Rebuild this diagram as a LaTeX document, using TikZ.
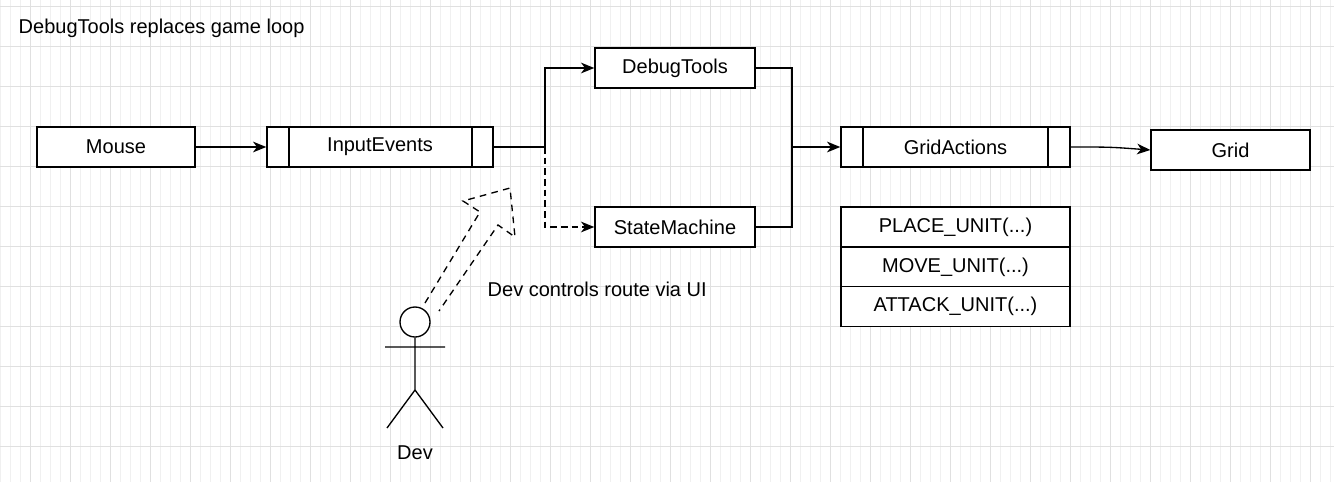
\documentclass[tikz,border=0pt]{standalone}
\usepackage{fontspec}
\setmainfont{Liberation Sans}
\usetikzlibrary{arrows.meta}
\begin{document}
\begin{tikzpicture}[x=0.75pt,y=-0.75pt,
 box/.style={draw,line width=1pt,fill=white,minimum height=30pt,inner sep=0pt,font=\fontsize{15}{18}\selectfont},
 lbl/.style={font=\fontsize{15}{18}\selectfont},
 arr/.style={line width=1pt,-{Stealth[length=10pt,width=8pt,inset=3pt]}},
 ln/.style={line width=1pt}]
\useasboundingbox (0,0) rectangle (1334,482);
\fill[white] (0,0) rectangle (1334,482);
\draw[black!6,line width=0.5pt] (0,-3.3) grid[step=10] (1334,482);
\foreach \x in {30,70,...,1334} \draw[black!12,line width=0.6pt] (\x,0)--(\x,482);
\foreach \y in {6.7,46.7,...,482} \draw[black!12,line width=0.6pt] (0,\y)--(1334,\y);
\node[lbl,anchor=west] (title) at (14,28) {DebugTools replaces game loop};
\node[box,minimum width=118.5pt] (mouse) at (116,147) {Mouse};
\node[box,minimum width=169.5pt] (ie) at (380,147) {InputEvents};
\draw[ln] (289,127)--(289,167) (472,127)--(472,167);
\node[box,minimum width=120pt] (dt) at (675,68) {DebugTools};
\node[box,minimum width=120pt] (sm) at (675,227) {StateMachine};
\node[box,minimum width=171.75pt] (ga) at (955.5,147) {GridActions};
\draw[ln] (863,127)--(863,167) (1048,127)--(1048,167);
\node[box,minimum width=119.25pt] (grid) at (1230.5,150) {Grid};
\node[box,minimum width=171.75pt] (l1) at (955.5,227) {PLACE\_UNIT(...)};
\node[box,minimum width=171.75pt] (l2) at (955.5,267) {MOVE\_UNIT(...)};
\node[box,minimum width=171.75pt] (l3) at (955.5,306.5) {ATTACK\_UNIT(...)};
\coordinate (sp) at (545,147);
\coordinate (jn) at (792,147);
\draw[arr] (mouse) -- (ie);
\draw[ln] (ie.east) -- (sp);
\draw[arr] (sp) |- (dt.west);
\draw[arr,dashed,dash pattern=on 5pt off 3pt] (sp) |- (sm.west);
\draw[ln] (dt.east) -| (jn);
\draw[ln] (sm.east) -| (jn);
\draw[arr] (jn) -- (ga.west);
\draw[arr] (ga.east) .. controls (1110,147) .. (grid.west);
% block arrow
\draw[line width=1pt,dashed,dash pattern=on 5pt off 4pt] (425,303)--(480,212)--(463,201)--(510,188)--(515,237)--(498,225)--(439,311);
% actor
\node[draw,circle,line width=1pt,minimum size=22.5pt,inner sep=0pt,fill=white] (head) at (415,322) {};
\draw[ln] (head.south)--(415,390) (385,347)--(445,347) (387,428)--(415,390)--(443,428);
\node[lbl] (dev) at (415,453) {Dev};
\node[lbl,anchor=west] (note) at (483,289) {Dev controls route via UI};
\end{tikzpicture}
\end{document}
